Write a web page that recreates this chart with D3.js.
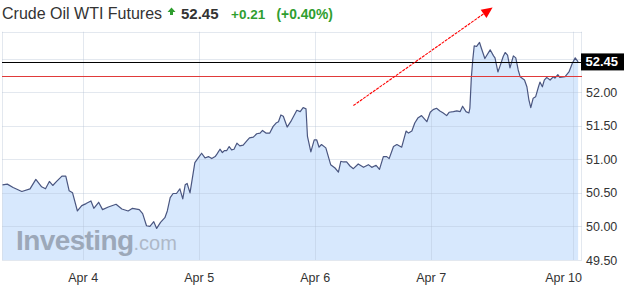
<!DOCTYPE html>
<html><head><meta charset="utf-8">
<script src="https://cdn.jsdelivr.net/npm/d3@7"></script>
<style>
html,body{margin:0;padding:0;background:#fff;}
svg{display:block;font-family:Arial,"Liberation Sans",sans-serif;}
</style></head>
<body><svg id="c" width="624" height="297"></svg>
<script>
// ---- data ----
const title = "Crude Oil WTI Futures";
const lastPrice = 52.45;
const prevClose = 52.24;
const changeAbs = "+0.21";
const changePct = "(+0.40%)";
// hours since start of window (window = 120 trading hours)
const hours = [0.1,1.1,2.3,4.1,5.8,7.0,8.2,9.0,9.8,10.5,11.3,12.4,13.2,13.9,14.6,15.6,16.5,17.4,18.4,19.0,20.0,20.8,22.0,23.6,24.8,26.1,27.0,28.4,29.1,29.9,30.6,31.4,32.0,32.8,33.7,34.2,34.8,35.4,36.1,36.8,37.4,37.9,38.3,38.9,39.9,40.6,41.3,42.0,42.7,43.4,44.1,44.5,45.1,45.6,46.0,46.5,47.0,47.5,48.0,48.6,49.2,49.9,50.6,51.2,52.0,52.7,53.4,53.9,54.6,55.4,56.1,56.7,57.2,57.7,58.2,59.0,59.9,61.0,61.7,62.3,62.9,63.2,63.9,64.6,65.1,65.6,66.1,67.0,68.0,68.9,69.6,70.1,70.6,71.3,72.0,72.7,73.7,74.8,75.8,76.5,77.4,78.1,78.9,79.6,80.1,81.0,81.7,82.7,83.6,84.1,84.8,85.4,86.1,86.8,87.9,88.6,89.2,89.9,90.6,91.3,92.0,92.5,93.4,94.1,94.8,95.3,96.0,96.6,96.8,97.1,97.4,97.7,98.2,98.8,99.2,99.9,101.0,101.7,102.0,102.6,103.0,103.7,104.1,104.6,105.1,105.8,106.3,106.8,107.2,108.1,108.6,109.0,109.4,109.9,110.4,111.0,111.3,111.8,112.2,112.7,113.4,114.1,114.4,115.0,115.4,116.5,117.3,118.0,118.6,119.2];
const prices = [50.62,50.63,50.58,50.52,50.56,50.70,50.59,50.56,50.67,50.61,50.67,50.75,50.75,50.53,50.50,50.23,50.31,50.34,50.38,50.27,50.36,50.25,50.29,50.33,50.26,50.23,50.27,50.25,50.19,50.01,50.00,50.07,49.97,50.06,50.13,50.23,50.43,50.49,50.49,50.56,50.41,50.62,50.64,50.50,50.95,51.02,51.09,51.02,51.04,51.01,51.04,51.08,51.15,51.10,51.13,51.13,51.19,51.14,51.15,51.24,51.20,51.21,51.27,51.32,51.33,51.38,51.39,51.43,51.39,51.39,51.49,51.54,51.56,51.66,51.64,51.48,51.58,51.73,51.71,51.77,51.75,51.34,51.11,51.29,51.29,51.18,51.22,51.17,50.92,50.87,50.81,50.97,50.96,50.96,50.90,50.86,50.93,50.88,50.92,50.88,50.91,50.85,51.04,51.04,51.01,51.19,51.22,51.18,51.42,51.39,51.42,51.54,51.62,51.65,51.56,51.70,51.74,51.76,51.72,51.69,51.65,51.70,51.71,51.72,51.71,51.79,51.71,51.69,51.76,52.21,52.48,52.69,52.68,52.74,52.65,52.50,52.63,52.54,52.51,52.30,52.38,52.53,52.59,52.55,52.36,52.54,52.51,52.33,52.23,52.18,52.08,51.89,51.77,51.91,51.93,52.08,52.15,52.08,52.18,52.22,52.18,52.23,52.21,52.26,52.22,52.23,52.30,52.43,52.51,52.45];
const xTickLabels = ["Apr 4","Apr 5","Apr 6","Apr 7","Apr 10"];
const xTickHours = [16.8,40.8,64.8,88.8,118.1];
const yTicks = [49.5,50.0,50.5,51.0,51.5,52.0,52.5];
const xDomain = [0,120];
const yDomain = [49.5,52.9];
// annotation arrow (hours, price)
const arrowFrom = [72.7,51.80];
const arrowTo = [101.5,53.26];

// ---- drawing ----
const svg = d3.select("#c");
const L = 2, R = 582, T = 31.7, B = 260;
const x = d3.scaleLinear().domain(xDomain).range([L,R]);
const y = d3.scaleLinear().domain(yDomain).range([B,T]);
const data = hours.map((h,i)=>({h, v:prices[i]}));

// header
svg.append("text").attr("x",2).attr("y",19).attr("font-size",16).attr("fill","#333").text(title);
const green = "#2f9e2f";
svg.append("path").attr("d","M171.5,7.5 L175.5,12 L173,12 L173,15 L170,15 L170,12 L167.5,12 Z").attr("fill",green);
svg.append("text").attr("x",181).attr("y",19).attr("font-size",15).attr("font-weight","bold").attr("fill","#333").text(lastPrice.toFixed(2));
svg.append("text").attr("x",231).attr("y",19).attr("font-size",13.5).attr("font-weight","bold").attr("fill",green).text(changeAbs);
svg.append("text").attr("x",276.5).attr("y",19).attr("font-size",13.8).attr("font-weight","bold").attr("fill",green).text(changePct);

// plot bg
svg.append("rect").attr("x",L).attr("y",T).attr("width",R-L).attr("height",B-T).attr("fill","#fff");

// area
svg.append("path").datum(data)
  .attr("d", d3.area().x(d=>x(d.h)).y0(B).y1(d=>y(d.v)))
  .attr("fill","#d7e8fd");

// watermark
const wm = svg.append("text").attr("x",16).attr("y",250).attr("fill","#9ca8b9");
wm.append("tspan").attr("font-size",28).attr("font-weight","bold").attr("letter-spacing",-0.6).text("Investing");
wm.append("tspan").attr("font-size",20).attr("fill","#aeb8c8").text(".com");

// grid
const gridCol = "rgba(175,188,210,0.35)";
svg.append("g").selectAll("line").data(yTicks.concat([yDomain[1]])).join("line")
  .attr("x1",L).attr("x2",R).attr("y1",d=>Math.round(y(d))+0.5).attr("y2",d=>Math.round(y(d))+0.5)
  .attr("stroke",gridCol).attr("stroke-width",1);
svg.append("g").selectAll("line").data(xTickHours).join("line")
  .attr("x1",d=>Math.round(x(d))+0.5).attr("x2",d=>Math.round(x(d))+0.5).attr("y1",T).attr("y2",B)
  .attr("stroke",gridCol).attr("stroke-width",1);
svg.append("line").attr("x1",L+0.5).attr("x2",L+0.5).attr("y1",T).attr("y2",B).attr("stroke",gridCol);
svg.append("line").attr("x1",R-0.5).attr("x2",R-0.5).attr("y1",T).attr("y2",B).attr("stroke",gridCol);

// line
svg.append("path").datum(data)
  .attr("d", d3.line().x(d=>x(d.h)).y(d=>y(d.v)))
  .attr("fill","none").attr("stroke","#4a5680").attr("stroke-width",1.2).attr("stroke-linejoin","round");

// reference lines
svg.append("line").attr("x1",L).attr("x2",R).attr("y1",Math.round(y(prevClose))+0.5).attr("y2",Math.round(y(prevClose))+0.5)
  .attr("stroke","#e03a3a").attr("stroke-width",1);
svg.append("line").attr("x1",L).attr("x2",R).attr("y1",Math.round(y(lastPrice))+0.5).attr("y2",Math.round(y(lastPrice))+0.5)
  .attr("stroke","#000").attr("stroke-width",1);

// y axis labels (those hidden by the last-price box are skipped)
const ly = y(lastPrice);
svg.append("g").selectAll("text").data(yTicks.filter(d=>Math.abs(y(d)-ly) > 14)).join("text")
  .attr("x",586).attr("y",d=>y(d)+4.5).attr("font-size",12.5).attr("fill","#333")
  .text(d=>d3.format(".2f")(d));
// last price box
svg.append("rect").attr("x",581).attr("y",ly-8.5).attr("width",43).attr("height",17).attr("fill","#000");
svg.append("text").attr("x",585.5).attr("y",ly+4.5).attr("font-size",13).attr("font-weight","bold").attr("fill","#fff").text(lastPrice.toFixed(2));

// x axis labels
svg.append("g").selectAll("text").data(xTickHours).join("text")
  .attr("y",282).attr("font-size",12.5).attr("fill","#333").attr("text-anchor","middle")
  .text((d,i)=>xTickLabels[i])
  .each(function(d){
    const w = this.getComputedTextLength();
    let cx = x(d);
    if (cx + w/2 > R) cx = R - w/2;
    d3.select(this).attr("x",cx);
  });

// annotation arrow
const ax1 = x(arrowFrom[0]), ay1 = y(arrowFrom[1]), ax2 = x(arrowTo[0]), ay2 = y(arrowTo[1]);
const ang = Math.atan2(ay2-ay1, ax2-ax1);
const hl = 11, hw = 5;
const bx = ax2 - hl*Math.cos(ang), by = ay2 - hl*Math.sin(ang);
svg.append("line").attr("x1",ax1).attr("y1",ay1).attr("x2",bx).attr("y2",by)
  .attr("stroke","#f00").attr("stroke-width",1.1).attr("stroke-dasharray","3,1");
svg.append("path").attr("d",`M${ax2},${ay2} L${bx - hw*Math.sin(ang)},${by + hw*Math.cos(ang)} L${bx + hw*Math.sin(ang)},${by - hw*Math.cos(ang)} Z`)
  .attr("fill","#f00");
</script></body></html>
